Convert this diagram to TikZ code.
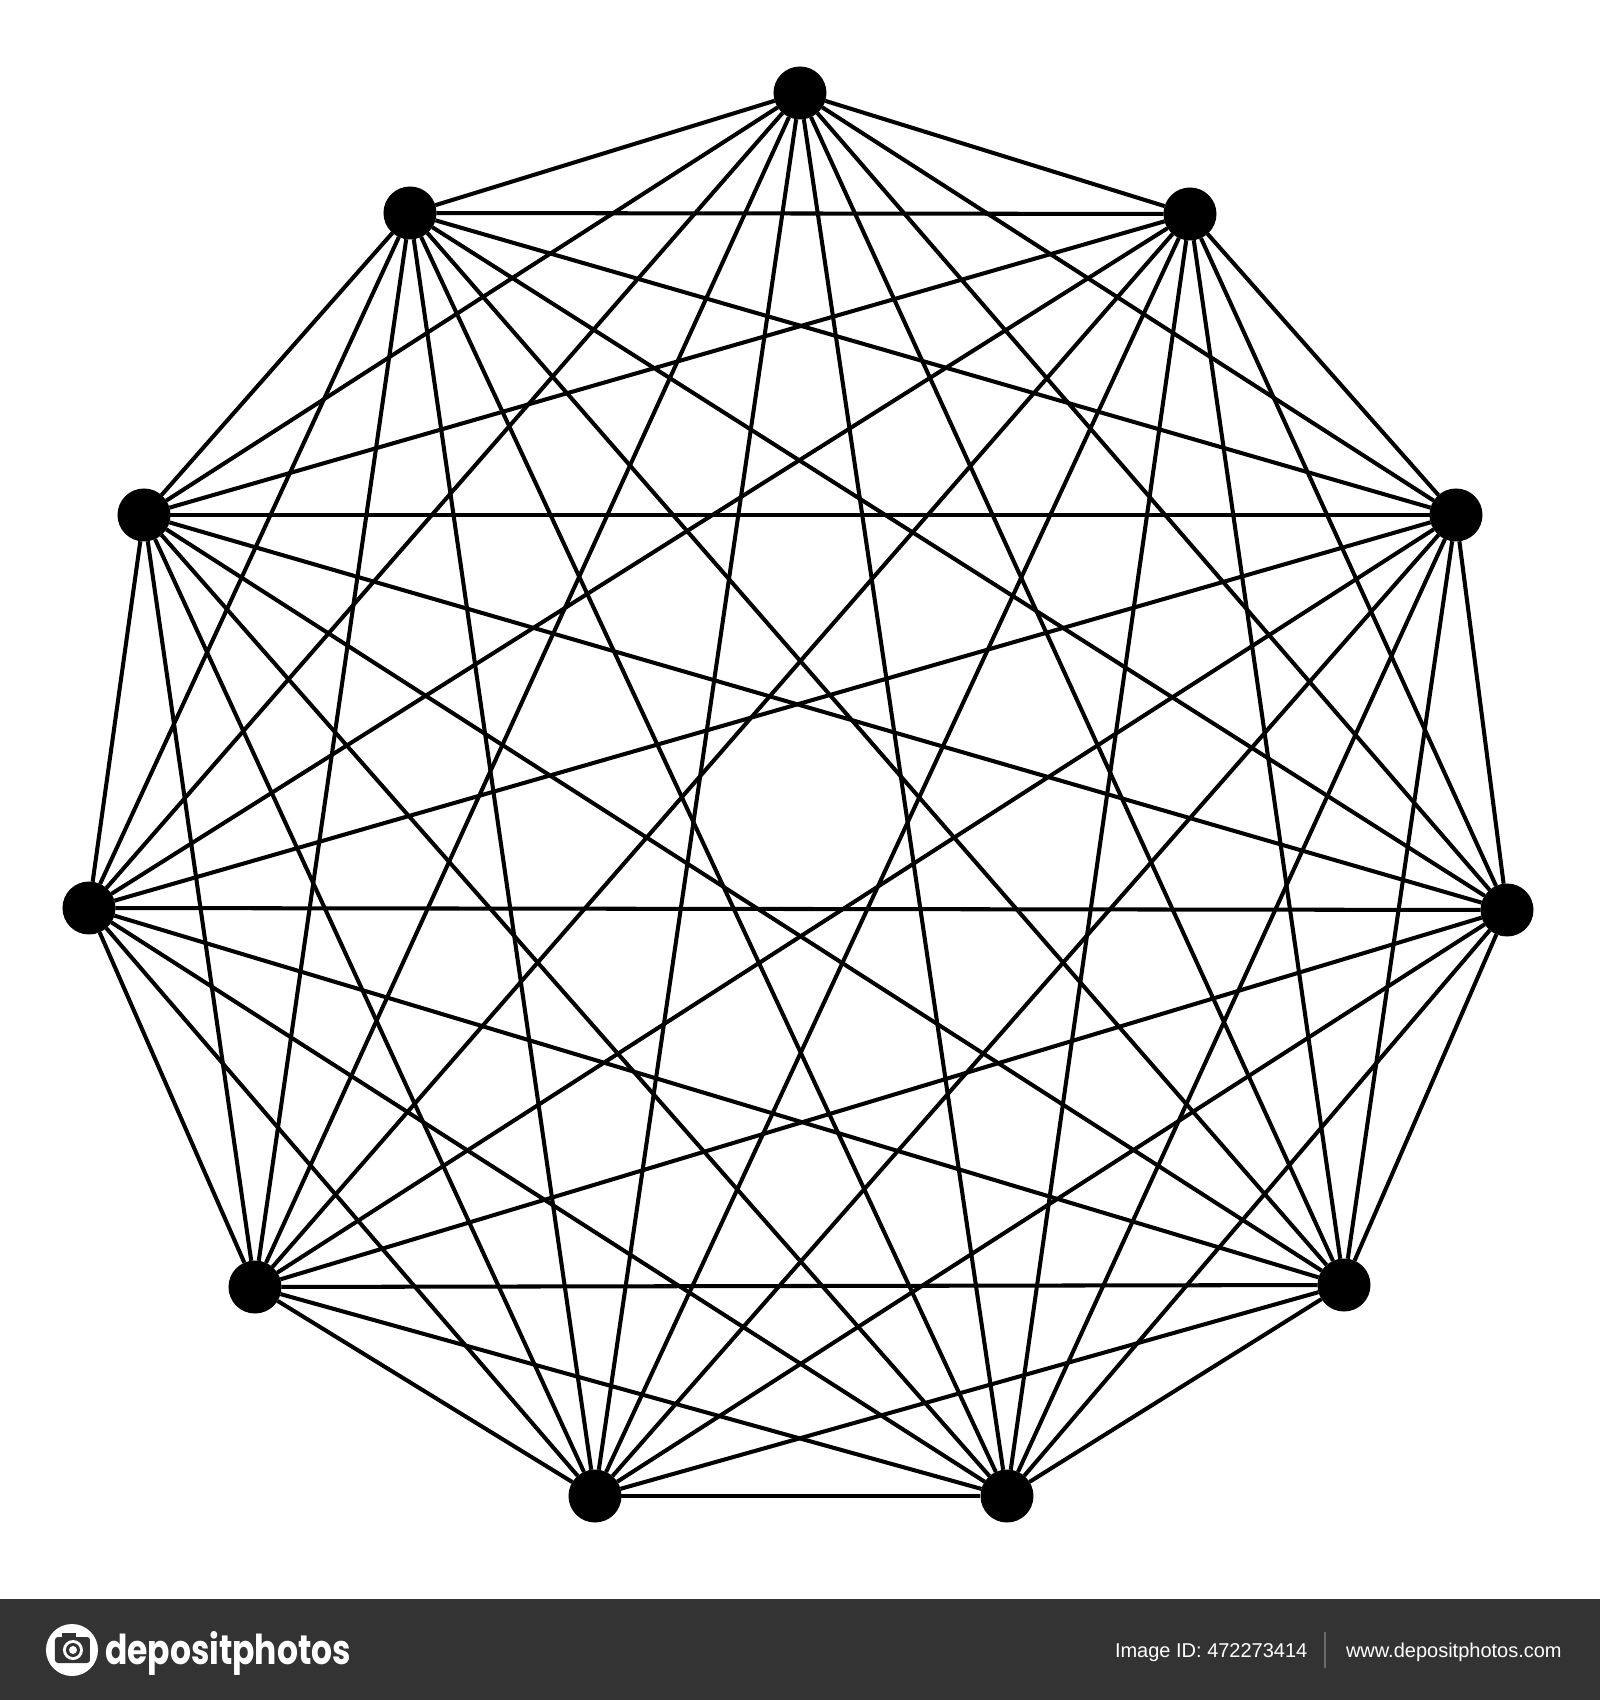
\documentclass[tikz,border=0pt]{standalone}
\usepackage{fontspec}
\usepackage{graphicx}
\newfontfamily\bannerfont{Liberation Sans}
\newfontfamily\logofont{Poppins}
\definecolor{bannergray}{HTML}{333333}
\definecolor{rulegray}{HTML}{6A6A6A}
\tikzset{
	vertex/.style={circle, fill=black, inner sep=0pt, outer sep=0pt, minimum size=0.53cm},
	bannertext/.style={text=white, inner sep=0pt, anchor=base west, font=\bannerfont\fontsize{5.69pt}{7pt}\selectfont}
}

\begin{document}
\begin{tikzpicture}[line width=1.15pt]

\useasboundingbox (-7.98,-8.92) rectangle (8.02,8.08);

\node[vertex] (p1) at (0.02,7.15)	{};
\node[vertex] (p2) at (3.92,5.94)	{};
\node[vertex] (p3) at (6.58,2.93)	{};
\node[vertex] (p4) at (7.09,-1.02)	{};
\node[vertex] (p5) at (5.46,-4.77)	{};
\node[vertex] (p6) at (2.09,-6.88)	{};
\node[vertex] (p7) at (-2.03,-6.88)	{};
\node[vertex] (p8) at (-5.43,-4.79)	{};
\node[vertex] (p9) at (-7.09,-1.00)	{};
\node[vertex] (p10) at (-6.54,2.93)	{};
\node[vertex] (p11) at (-3.88,5.95)	{};

\path (p1) edge [draw] (p2);
\path (p1) edge [draw] (p3);
\path (p1) edge [draw] (p4);
\path (p1) edge [draw] (p5);
\path (p1) edge [draw] (p6);
\path (p1) edge [draw] (p7);
\path (p1) edge [draw] (p8);
\path (p1) edge [draw] (p9);
\path (p1) edge [draw] (p10);
\path (p1) edge [draw] (p11);

\path (p2) edge [draw] (p3);
\path (p2) edge [draw] (p4);
\path (p2) edge [draw] (p5);
\path (p2) edge [draw] (p6);
\path (p2) edge [draw] (p7);
\path (p2) edge [draw] (p8);
\path (p2) edge [draw] (p9);
\path (p2) edge [draw] (p10);
\path (p2) edge [draw] (p11);

\path (p3) edge [draw] (p4);
\path (p3) edge [draw] (p5);
\path (p3) edge [draw] (p6);
\path (p3) edge [draw] (p7);
\path (p3) edge [draw] (p8);
\path (p3) edge [draw] (p9);
\path (p3) edge [draw] (p10);
\path (p3) edge [draw] (p11);

\path (p4) edge [draw] (p5);
\path (p4) edge [draw] (p6);
\path (p4) edge [draw] (p7);
\path (p4) edge [draw] (p8);
\path (p4) edge [draw] (p9);
\path (p4) edge [draw] (p10);
\path (p4) edge [draw] (p11);

\path (p5) edge [draw] (p6);
\path (p5) edge [draw] (p7);
\path (p5) edge [draw] (p8);
\path (p5) edge [draw] (p9);
\path (p5) edge [draw] (p10);
\path (p5) edge [draw] (p11);

\path (p6) edge [draw] (p7);
\path (p6) edge [draw] (p8);
\path (p6) edge [draw] (p9);
\path (p6) edge [draw] (p10);
\path (p6) edge [draw] (p11);

\path (p7) edge [draw] (p8);
\path (p7) edge [draw] (p9);
\path (p7) edge [draw] (p10);
\path (p7) edge [draw] (p11);

\path (p8) edge [draw] (p9);
\path (p8) edge [draw] (p10);
\path (p8) edge [draw] (p11);

\path (p9) edge [draw] (p10);
\path (p9) edge [draw] (p11);

\path (p10) edge [draw] (p11);

% banner
\fill[bannergray] (-7.98,-7.91) rectangle (8.02,-8.92);

\fill[white] (-7.26,-8.42) circle (0.26);
\fill[bannergray, rounded corners=0.03cm] (-7.43,-8.55) rectangle (-7.08,-8.29);
\fill[bannergray] (-7.36,-8.30) rectangle (-7.22,-8.25);
\fill[white] (-7.25,-8.42) circle (0.10);
\fill[bannergray] (-7.25,-8.42) circle (0.07);
\fill[white] (-7.25,-8.42) circle (0.04);

\node[inner sep=0pt, anchor=base west, text=white] (logo) at (-6.95,-8.56)
	{\logofont\bfseries\resizebox{2.46cm}{0.33cm}{depositphotos}};

\node[bannertext] (imageid) at (3.15,-8.49) {Image ID: 472273414};
\coordinate (sepa) at (5.27,-8.24);
\coordinate (sepb) at (5.27,-8.60);
\draw[rulegray, line width=0.3pt] (sepa) -- (sepb);
\node[bannertext] (site) at (5.46,-8.49) {www.depositphotos.com};

\end{tikzpicture}
\end{document}
